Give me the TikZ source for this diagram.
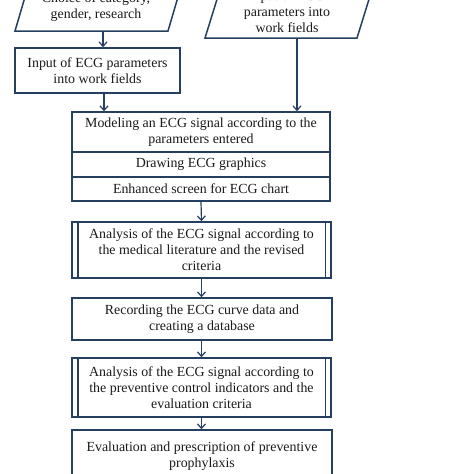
\documentclass[tikz,border=0pt]{standalone}
\usepackage{fontspec}
\setmainfont{Liberation Serif}
\usetikzlibrary{arrows.meta,calc}
\definecolor{ln}{HTML}{243F60}
\definecolor{tx}{HTML}{1A1A1A}
\newcommand\fs{\fontsize{13.9}{16}\selectfont}
\begin{document}
\begin{tikzpicture}[x=1pt,y=-1pt,
  box/.style={draw=ln,line width=1.5pt,fill=white,minimum width=259pt,inner sep=0pt,align=center,font=\fs,text=tx},
  para/.style={draw=ln,line width=1.5pt,fill=white},
  ptext/.style={align=center,font=\fs,text=tx,inner sep=0pt},
  arr/.style={draw=ln,line width=1.2pt,-{Straight Barb[length=4.5pt,width=8pt,line width=1.2pt]}},
  pline/.style={draw=ln,line width=1.5pt}]
\useasboundingbox (0,0) rectangle (474,474);
\clip (0,0) rectangle (474,474);
\fill[white] (0,0) rectangle (474,474);
% top parallelograms
\draw[para] (15,31) -- (168,31) -- (183,-20) -- (30,-20) -- cycle;
\node[ptext] (p1) at (96,7) {Choice of category,\\gender, research};
\coordinate (p1b) at (103,31);
\draw[para] (205,38) -- (357,38) -- (375,-20) -- (223,-20) -- cycle;
\node[ptext] (p2) at (287,12) {Input of ECG\\parameters into\\work fields};
\coordinate (p2b) at (297,38);
% boxes
\node[box,minimum width=165pt,minimum height=45pt] (in) at (97.5,70.5) {Input of ECG parameters\\into work fields};
\node[box,minimum width=258pt,minimum height=40pt] (m1) at (201,132) {Modeling an ECG signal according to the\\parameters entered};
\node[box,minimum width=258pt,minimum height=25pt] (m2) at (201,164.5) {Drawing ECG graphics};
\node[box,minimum width=258pt,minimum height=24pt] (m3) at (201,189) {Enhanced screen for ECG chart};
\node[box,minimum height=56pt] (an1) at (201.5,250) {Analysis of the ECG signal according to\\the medical literature and the revised\\criteria};
\draw[pline] ($(an1.north west)+(6.5,0)$) -- ($(an1.south west)+(6.5,0)$);
\draw[pline] ($(an1.north east)+(-6.5,0)$) -- ($(an1.south east)+(-6.5,0)$);
\node[box,minimum width=260pt,minimum height=42pt] (rec) at (202,319) {Recording the ECG curve data and\\creating a database};
\node[box,minimum height=59pt] (an2) at (201.5,387.5) {Analysis of the ECG signal according to\\the preventive control indicators and the\\evaluation criteria};
\draw[pline] ($(an2.north west)+(6.5,0)$) -- ($(an2.south west)+(6.5,0)$);
\draw[pline] ($(an2.north east)+(-6.5,0)$) -- ($(an2.south east)+(-6.5,0)$);
\node[box,minimum width=260pt,minimum height=52pt] (ev) at (202,456) {Evaluation and prescription of preventive\\prophylaxis};
% connectors
\draw[arr] (p1b) -- (p1b |- in.north);
\coordinate (inb) at ($(in.south)+(6.5,0)$);
\draw[arr] (inb) -- (inb |- m1.north);
\draw[arr] (p2b) -- (p2b |- m1.north);
\draw[arr] (m3.south) -- (an1.north);
\draw[arr] (an1.south) -- (an1.south |- rec.north);
\draw[arr] (an1.south |- rec.south) -- (an2.north);
\draw[arr] (an2.south) -- (an2.south |- ev.north);
\end{tikzpicture}
\end{document}
